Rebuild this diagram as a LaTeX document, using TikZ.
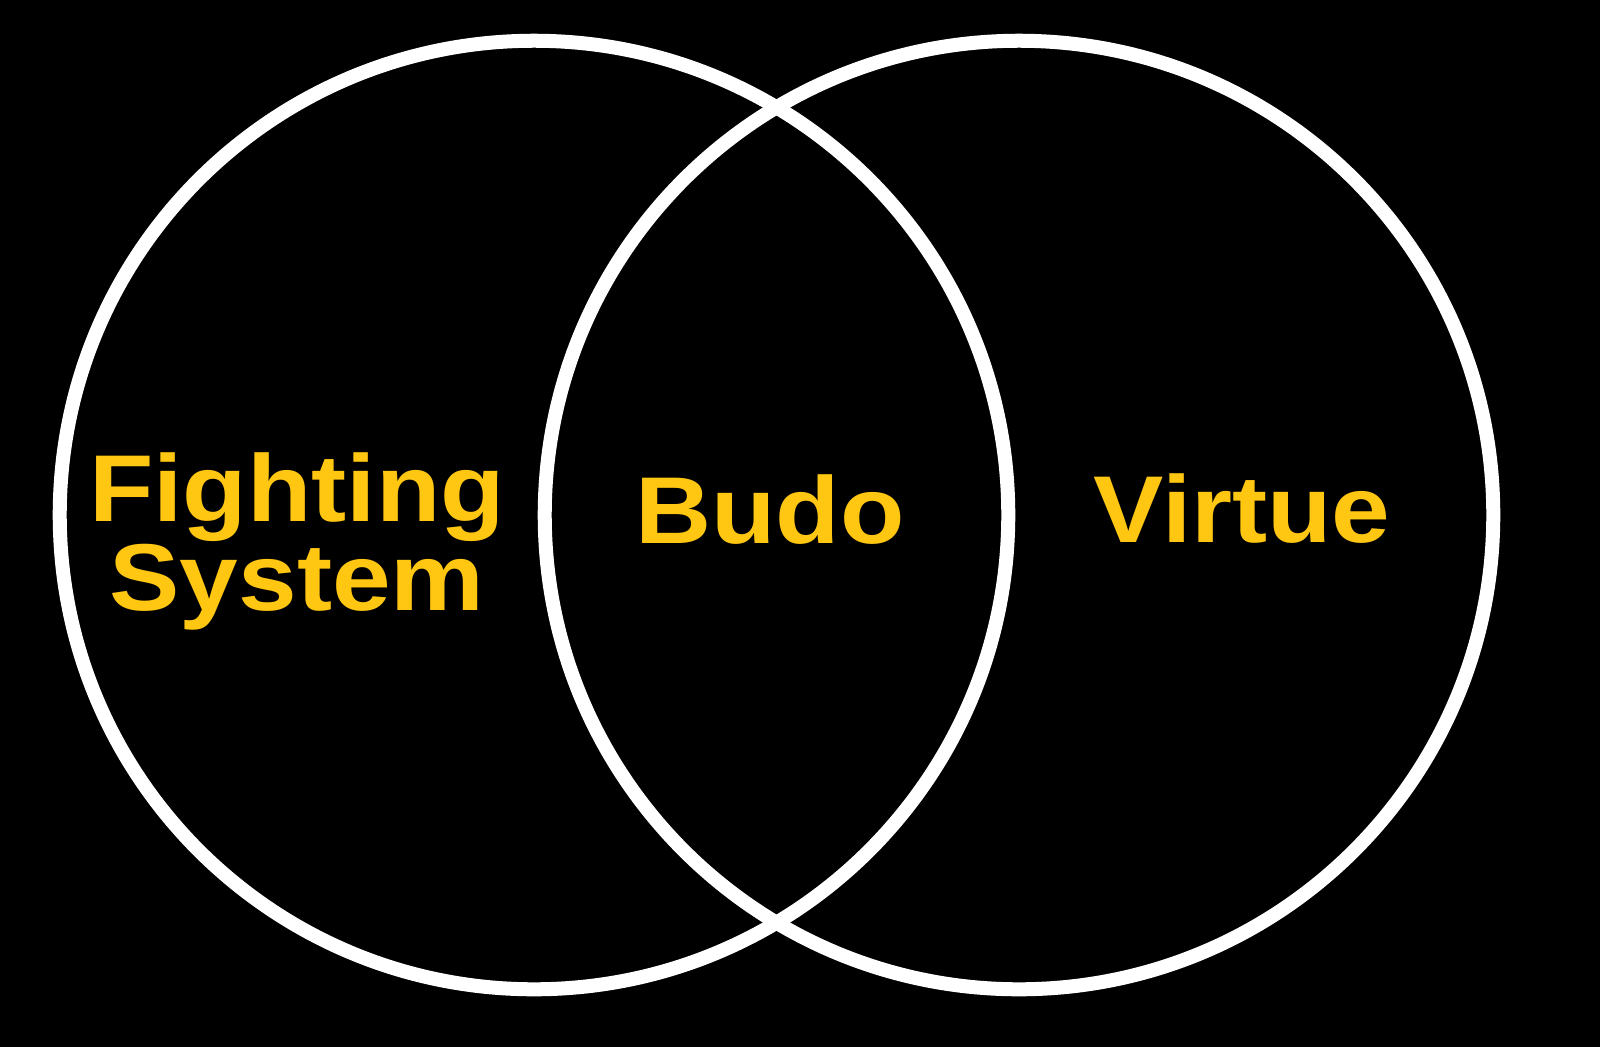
\documentclass[tikz,border=0pt]{standalone}
\usepackage{fontspec}
\setmainfont{Liberation Sans}
\usetikzlibrary{positioning}
\definecolor{budoyellow}{RGB}{255,198,18}
\tikzset{
  ring/.style={draw=white,line width=0.14cm},
  label text/.style={text=budoyellow,font=\bfseries\fontsize{27}{25}\selectfont,align=center,inner sep=0pt}
}
\newcommand{\widen}[1]{\scalebox{1.11}[1]{#1}}

\begin{document}
\begin{tikzpicture}[x=0.01cm,y=-0.01cm]
\fill[black] (0,0) rectangle (1600,1047);
\useasboundingbox (0,0) rectangle (1600,1047);

\draw[ring] (534,515) circle (4.74cm);
\draw[ring] (1019,515) circle (4.74cm);

\node[label text,anchor=base] (fight) at (297,521) {\widen{Fighting}};
\node[label text,anchor=base] (system) at (297,610) {\widen{System}};
\node[label text,anchor=base] (budo) at (770,543) {\widen{Budo}};
\node[label text,anchor=base] (virtue) at (1242,542) {\widen{Virtue}};

\end{tikzpicture}
\end{document}
